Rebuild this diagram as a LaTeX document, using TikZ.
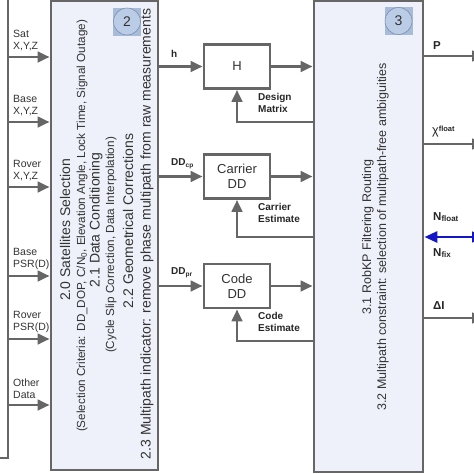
\documentclass[tikz,border=0pt]{standalone}
\usepackage{fontspec}
\setmainfont{Liberation Sans}
\usetikzlibrary{arrows.meta,calc}
\definecolor{lgray}{HTML}{666666}
\definecolor{boxfill}{HTML}{EEF1FA}
\definecolor{badgesq}{HTML}{A8BBD8}
\definecolor{badgeci}{HTML}{BBCCE6}
\definecolor{badgeln}{HTML}{7D90B2}
\definecolor{txt}{HTML}{333333}
\definecolor{nblue}{HTML}{1414C8}
\tikzset{
 conn/.style={draw=lgray, line width=2.8pt},
 arr/.style={conn, -{Triangle[length=12pt,width=10.5pt]}},
 bigbox/.style={draw=lgray, line width=2.8pt, fill=boxfill, inner sep=0},
 blk/.style={draw=lgray, line width=2.8pt, fill=white, minimum width=66pt, minimum height=44pt, align=center, font=\fontsize{13}{15}\selectfont, text=txt, inner sep=0},
 inlbl/.style={font=\fontsize{10.5}{12}\selectfont, text=txt, align=left, anchor=south west, inner sep=0},
 blbl/.style={font=\fontsize{10}{12}\selectfont\bfseries, text=black!85, align=left, inner sep=0},
 rotbig/.style={rotate=90, font=\fontsize{14}{16}\selectfont, text=txt, inner sep=0},
 rotsmall/.style={rotate=90, font=\fontsize{11.7}{13}\selectfont, text=txt, inner sep=0},
 rotmid/.style={rotate=90, font=\fontsize{12.5}{14}\selectfont, text=txt, inner sep=0},
 badgesquare/.style={fill=badgesq, minimum size=28pt, inner sep=0},
 badgecircle/.style={circle, fill=badgeci, draw=badgeln, line width=0.6pt, minimum size=27pt, inner sep=0, font=\fontsize{14}{16}\selectfont, text=txt},
}
\begin{document}
\begin{tikzpicture}[x=1pt,y=-1pt]
\useasboundingbox (0,0) rectangle (474,474);
% left (cut-off) box edge
\coordinate (L0) at (8,-5);
\coordinate (L1) at (8,458);
\coordinate (L2) at (-5,458);
\draw[conn] (L0) -- (L1) -- (L2);
% main boxes
\node[bigbox, minimum width=107pt, minimum height=469pt] (B2) at (104.5,235.5) {};
\node[bigbox, minimum width=109pt, minimum height=471pt] (B3) at (368.5,236.5) {};
% badges
\node[badgesquare] (S2) at (127,21.5) {};
\node[badgecircle] (C2) at (S2) {2};
\node[badgesquare] (S3) at (398.5,21) {};
\node[badgecircle] (C3) at (S3) {3};
% box 2 text
\node[rotbig] (t20) at (65,230) {2.0 Satellites Selection};
\node[rotsmall] (t20s) at (82,226) {(Selection Criteria: DD\_DOP, C/N\textsubscript{0}, Elevation Angle, Lock Time, Signal Outage)};
\node[rotbig] (t21) at (96,220) {2.1 Data Conditioning};
\node[rotsmall] (t21s) at (111,245) {(Cycle Slip Correction, Data Interpolation)};
\node[rotbig] (t22) at (128,221) {2.2 Geometrical Corrections};
\node[rotbig] (t23) at (147,234) {2.3 Multipath indicator: remove phase multipath from raw measurements};
% box 3 text
\node[rotmid] (t31) at (368,237) {3.1 RobKP Filtering Routing};
\node[rotmid] (t32) at (383,237) {3.2 Multipath constraint: selection of multipath-free ambiguities};
% inputs on the left
\foreach \n/\y/\t in {i1/57/{Sat\\X,Y,Z}, i2/122/{Base\\X,Y,Z}, i3/187/{Rover\\X,Y,Z}, i4/276/{Base\\PSR(D)}, i5/339/{Rover\\PSR(D)}, i6/405/{Other\\Data}}{
  \coordinate (\n) at (8,\y);
  \draw[arr] (\n) -- (\n -| B2.west);
  \node[inlbl] (\n l) at (13,\y-6) {\t};
}
% middle blocks
\node[blk] (H) at (237,66.5) {H};
\node[blk] (CDD) at (237,176.5) {Carrier\\DD};
\node[blk] (KDD) at (237,286) {Code\\DD};
\foreach \b in {H,CDD,KDD}{
  \draw[arr] (B2.east |- \b) -- (\b.west);
  \draw[arr] (\b.east) -- (\b.east -| B3.west);
}
\coordinate (fH) at (314,122);
\coordinate (fC) at (314,237);
\coordinate (fK) at (314,341);
\draw[arr] (fH) -- (fH -| H.south) -- (H.south);
\draw[arr] (fC) -- (fC -| CDD.south) -- (CDD.south);
\draw[arr] (fK) -- (fK -| KDD.south) -- (KDD.south);
\node[blbl, anchor=south west] (lh) at (171,58) {h};
\node[blbl, anchor=south west] (lcp) at (171,169) {DD\raisebox{-1.5pt}{\fontsize{6.5}{7}\selectfont cp}};
\node[blbl, anchor=south west] (lpr) at (171,278) {DD\raisebox{-1.5pt}{\fontsize{6.5}{7}\selectfont pr}};
\node[blbl, anchor=north west] (ldm) at (258,93) {Design\\Matrix};
\node[blbl, anchor=north west] (lce) at (258,203) {Carrier\\Estimate};
\node[blbl, anchor=north west] (lke) at (258,312) {Code\\Estimate};
% outputs on the right
\coordinate (oP) at (484,56);
\coordinate (oX) at (484,144);
\coordinate (oN) at (484,237);
\coordinate (oD) at (484,318);
\draw[arr] (B3.east |- oP) -- (oP);
\draw[arr] (B3.east |- oX) -- (oX);
\draw[arr] (B3.east |- oD) -- (oD);
\draw[line width=2.8pt, draw=nblue, {Triangle[length=13pt,width=11pt,fill=nblue]}-{Triangle[length=12pt,width=10.5pt,fill=nblue]}] (B3.east |- oN) -- (oN);
\node[blbl, anchor=south west, font=\fontsize{11.5}{13}\selectfont\bfseries] (lP) at (433,50) {P};
\node[blbl, anchor=south west] (lX) at (432,137) {{\fontsize{12.5}{14}\selectfont\mdseries χ}\raisebox{2.5pt}{\fontsize{7.5}{8}\selectfont float}};
\node[blbl, anchor=south west, font=\fontsize{11.5}{13}\selectfont\bfseries] (lNf) at (433,222) {N\raisebox{-1.5pt}{\fontsize{8}{9}\selectfont float}};
\node[blbl, anchor=north west, font=\fontsize{11.5}{13}\selectfont\bfseries] (lNx) at (433,248) {N\raisebox{-1.5pt}{\fontsize{8}{9}\selectfont fix}};
\node[blbl, anchor=south west, font=\fontsize{11.5}{13}\selectfont\bfseries] (lD) at (433,310) {ΔI};
\end{tikzpicture}
\end{document}
